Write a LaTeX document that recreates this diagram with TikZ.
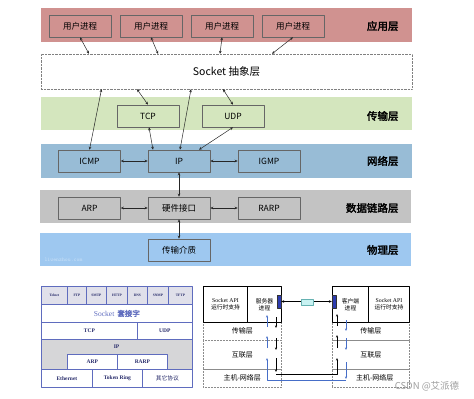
\documentclass[tikz,border=0pt]{standalone}
\usepackage{fontspec}
\setmainfont{Liberation Serif}
\newfontfamily\cjk{Noto Sans CJK SC}
\newfontfamily\cjkb[FakeBold=2.5]{Noto Sans CJK SC}
\usetikzlibrary{arrows.meta}

\definecolor{appred}{RGB}{208,146,144}
\definecolor{tpgreen}{RGB}{212,230,190}
\definecolor{netblue}{RGB}{152,188,214}
\definecolor{lnkgray}{RGB}{195,195,195}
\definecolor{phyblue}{RGB}{158,200,240}
\definecolor{stkblue}{RGB}{95,108,190}
\definecolor{stknavy}{RGB}{38,42,105}
\definecolor{protfill}{RGB}{224,224,234}
\definecolor{ipfill}{RGB}{214,214,216}
\definecolor{endblue}{RGB}{45,60,175}
\definecolor{pipecyan}{RGB}{200,242,242}
\definecolor{pathblue}{RGB}{70,110,200}

\begin{document}
\begin{tikzpicture}[x=1pt, y=-1pt, line join=round,
	band/.style={minimum width=371, minimum height=34, inner sep=0pt},
	pbox/.style={draw=black!60, line width=0.6pt, minimum width=62, minimum height=22, inner sep=0pt, font=\cjk\fontsize{8.5}{10}\selectfont},
	bandname/.style={anchor=east, font=\cjkb\fontsize{10.5}{12}\selectfont},
	link/.style={{Stealth[length=3pt,width=2.6pt]}-{Stealth[length=3pt,width=2.6pt]}, line width=0.5pt, black!85},
	cell/.style={draw=stkblue, line width=0.8pt, inner sep=0pt, anchor=north west, text=stknavy, font=\bfseries\fontsize{5.5}{6}\selectfont},
	apicell/.style={draw=black, line width=1pt, inner sep=0pt, anchor=north west, minimum height=36, align=center, font=\fontsize{5.8}{7}\selectfont},
	layer/.style={draw=black!45, densely dotted, line width=0.5pt, inner sep=0pt, anchor=north west, font=\cjk\fontsize{7}{8}\selectfont},
	flowk/.style={-{Stealth[length=2.5pt,width=2pt]}, line width=0.5pt, black},
	flowb/.style={-{Stealth[length=2.5pt,width=2pt]}, line width=0.5pt, pathblue}]
	\useasboundingbox (0,0) rectangle (474,399);

	% Tầng (upper picture)
	\node[band, fill=appred] (appband) at (226.5,25) {};
	\node[band, draw=black!50, densely dotted, minimum height=35, font=\cjk\fontsize{10.5}{12}\selectfont] (sock) at (226.5,71.5) {Socket 抽象层};
	\node[band, fill=tpgreen, minimum height=33] (tpband) at (226.5,113.5) {};
	\node[band, fill=netblue] (netband) at (226.5,161) {};
	\node[band, fill=lnkgray, minimum height=33] (lnkband) at (225.5,206.5) {};
	\node[band, fill=phyblue, minimum height=33] (phyband) at (225.5,249.5) {};

	\node[bandname] (appname) at (402,26) {应用层};
	\node[bandname] (tpname) at (402,116) {传输层};
	\node[bandname] (netname) at (402,161) {网络层};
	\node[bandname] (lnkname) at (402,208) {数据链路层};
	\node[bandname] (phyname) at (402,250) {物理层};
	\node[anchor=west, text=white, opacity=0.45, font=\ttfamily\fontsize{5.5}{6}\selectfont] (wmark) at (41,260) {liwenzhou.com};

	% Các khối
	\foreach \i/\x in {1/80, 2/151, 3/222, 4/293}
		\node[pbox, fill=appred] (u\i) at (\x,26) {用户进程};
	\node[pbox, fill=tpgreen] (tcp) at (148,116) {TCP};
	\node[pbox, fill=tpgreen] (udp) at (233,116) {UDP};
	\node[pbox, fill=netblue] (icmp) at (89.5,161) {ICMP};
	\node[pbox, fill=netblue] (ip) at (179,161) {IP};
	\node[pbox, fill=netblue] (igmp) at (269,161) {IGMP};
	\node[pbox, fill=lnkgray] (arp) at (89.5,208) {ARP};
	\node[pbox, fill=lnkgray] (hw) at (179,208) {硬件接口};
	\node[pbox, fill=lnkgray] (rarp) at (269,208) {RARP};
	\node[pbox, fill=phyblue] (med) at (179,250) {传输介质};

	% Mũi tên
	\draw[link] (u1.south) -- ([xshift=9pt]u1.south |- sock.north);
	\draw[link] (u2.south) -- ([xshift=7pt]u2.south |- sock.north);
	\draw[link] (u3.south) -- ([xshift=-2pt]u3.south |- sock.north);
	\draw[link] (u4.south) -- ([xshift=-21pt]u4.south |- sock.north);
	\draw[link] ([xshift=-11pt]tcp.north |- sock.south) -- (tcp.north);
	\draw[link] ([xshift=-10pt]udp.north |- sock.south) -- (udp.north);
	\draw[link] ([xshift=12pt]icmp.north |- sock.south) -- (icmp.north);
	\draw[link] ([xshift=12pt]ip.north |- sock.south) -- ([xshift=1pt]ip.north);
	\draw[link] ([xshift=1pt]tcp.south) -- ([xshift=-26pt]ip.north);
	\draw[link] (udp.south) -- ([xshift=20pt]ip.north);
	\draw[link] (icmp.east) -- (ip.west);
	\draw[link] (ip.east) -- (igmp.west);
	\draw[link] (ip.south) -- (hw.north);
	\draw[link] (arp.east) -- (hw.west);
	\draw[link] (hw.east) -- (rarp.west);
	\draw[link] (hw.south) -- (med.north);

	% Ngăn xếp giao thức (lower left)
	\foreach \a/\b/\t in {41/67/Telnet, 67/86/FTP, 86/106/SMTP, 106/127/HTTP, 127/147/DNS, 147/168/SNMP, 168/192/TFTP}
		\node[cell, fill=protfill, minimum width={\b-\a}, minimum height=18, font=\bfseries\fontsize{3.6}{4}\selectfont] (p\t) at (\a,286) {\t};
	\node[cell, minimum width=151, minimum height=18, text=stkblue, font=\fontsize{7.5}{8}\selectfont] (sockrow) at (41,304) {Socket\hspace{3pt}{\cjkb 套接字}};
	\node[cell, minimum width=96, minimum height=17] (tcprow) at (41,322) {TCP};
	\node[cell, minimum width=55, minimum height=17] (udprow) at (137,322) {UDP};
	\node[cell, fill=ipfill, minimum width=151, minimum height=30] (iparea) at (41,339) {};
	\node[text=stknavy, font=\bfseries\fontsize{5.5}{6}\selectfont] (iprow) at (116.5,346.5) {IP};
	\node[cell, fill=white, minimum width=50, minimum height=15] (arprow) at (67,354) {ARP};
	\node[cell, fill=white, minimum width=50, minimum height=15] (rarprow) at (117,354) {RARP};
	\node[cell, minimum width=51, minimum height=18] (ethrow) at (41,369) {Ethernet};
	\node[cell, minimum width=50, minimum height=18] (tokrow) at (92,369) {Token Ring};
	\node[cell, minimum width=50, minimum height=18, font=\cjk\fontsize{5.8}{6}\selectfont] (othrow) at (142,369) {其它协议};

	% Máy chủ / máy khách (lower right)
	\node[layer, minimum width=78, minimum height=18] (srvtp) at (203,322) {传输层};
	\node[layer, minimum width=78, minimum height=29] (srvnet) at (203,340) {互联层};
	\node[layer, minimum width=78, minimum height=18] (srvhost) at (203,369) {主机-网络层};
	\node[layer, minimum width=77, minimum height=18] (clitp) at (332,322) {传输层};
	\node[layer, minimum width=77, minimum height=29] (clinet) at (332,340) {互联层};
	\node[layer, minimum width=77, minimum height=18] (clihost) at (332,369) {\hspace{8pt}主机-网络层};
	\node[apicell, fill=white, minimum width=44] (srvapi) at (203,286) {Socket API\\{\cjk 运行时支持}};
	\node[apicell, fill=white, minimum width=34, font=\cjk\fontsize{5.8}{7}\selectfont] (srvproc) at (247,286) {服务器\\进程\hspace{4pt}};
	\node[apicell, fill=white, minimum width=36, font=\cjk\fontsize{5.8}{7}\selectfont] (cliproc) at (332,286) {客户端\\进程};
	\node[apicell, fill=white, minimum width=41] (cliapi) at (368,286) {Socket API\\{\cjk 运行时支持}};
	\node[draw=black!80, fill=endblue, line width=0.4pt, minimum width=4, minimum height=13, inner sep=0pt] (srvend) at (279,301.5) {};
	\node[draw=black!80, fill=endblue, line width=0.4pt, minimum width=4, minimum height=13, inner sep=0pt] (cliend) at (334,301.5) {};
	\draw[{Stealth[length=3pt,width=2.6pt]}-{Stealth[length=3pt,width=2.6pt]}, line width=0.6pt] (srvend.east) -- (cliend.west);
	\node[draw=teal!60, fill=pipecyan, line width=0.4pt, minimum width=12, minimum height=6, inner sep=0pt] (pipe) at (307,302) {};

	% Luồng dữ liệu
	\foreach \s/\e in {317/328, 338/350}
		\draw[flowk] (276,\s) -- (276,\e);
	\draw[flowk] (276,358) -- (276,372);
	\draw[flowk] (276,374) -- (337,374) -- (337,358);
	\foreach \s/\e in {326/314, 348/335}
		\draw[flowk] (337,\s) -- (337,\e);
	\foreach \s/\e in {320/331, 338/350, 362/379}
		\draw[flowb] (346,\s) -- (346,\e);
	\draw[flowb] (346,380) -- (267,380) -- (267,358);
	\foreach \s/\e in {327/315, 348/336}
		\draw[flowb] (267,\s) -- (267,\e);

	\node[text=black!38, font=\cjk\fontsize{9.5}{10}\selectfont] (csdn) at (427,386) {CSDN @艾派德};
\end{tikzpicture}
\end{document}
